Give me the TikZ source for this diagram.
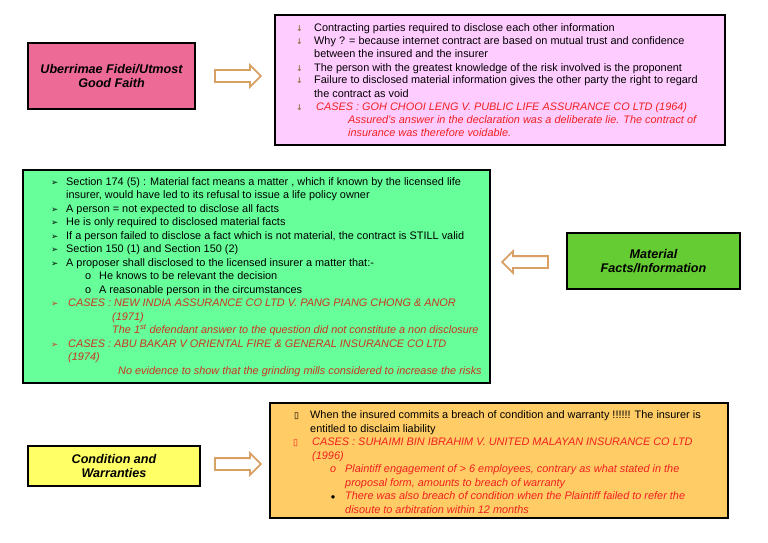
\documentclass[tikz,border=0pt]{standalone}
\usepackage{fontspec}
\setmainfont{Liberation Sans}
\newfontfamily\djv{DejaVu Sans}
\usetikzlibrary{shapes.arrows}
\definecolor{pinkA}{HTML}{EE6A96}
\definecolor{pinkB}{HTML}{FFCCFF}
\definecolor{greenA}{HTML}{66FF99}
\definecolor{greenB}{HTML}{66CC33}
\definecolor{yelA}{HTML}{FFFF66}
\definecolor{orA}{HTML}{FFCC66}
\definecolor{redA}{HTML}{F02020}
\definecolor{redB}{HTML}{CC3322}
\definecolor{arr}{HTML}{D9A066}
\begin{document}
\begin{tikzpicture}[x=1pt,y=-1pt,
  box/.style={draw=black,line width=1.6pt},
  lbl/.style={font=\bfseries\itshape\fontsize{12.6}{14.5}\selectfont,align=center},
  ln/.style={anchor=base west,inner sep=0pt,font=\fontsize{10.9}{12}\selectfont},
  cs/.style={ln,font=\itshape\fontsize{10.9}{12}\selectfont},
  bar/.style={draw=arr,fill=white,line width=1.8pt,single arrow,single arrow head extend=5pt,minimum height=46pt,minimum width=20pt,inner sep=5pt}]
\useasboundingbox (0,0) rectangle (768,543);
% boxes
\draw[box,fill=pinkA] (28,43) rectangle (195,109) node[pos=.5,lbl](b1){Uberrimae Fidei/Utmost\\Good Faith};
\draw[box,fill=pinkB] (275,15) rectangle (725,145) coordinate (b2);
\draw[box,fill=greenA] (23,170) rectangle (490,383) coordinate (b3);
\draw[box,fill=greenB] (567,233) rectangle (740,289) node[pos=.5,lbl](b4){Material\\Facts/Information};
\draw[box,fill=yelA] (28,446) rectangle (200,486) node[pos=.5,lbl](b5){Condition and\\Warranties};
\draw[box,fill=orA] (270,403) rectangle (728,518) coordinate (b6);
% arrows
\node[bar] (a1) at (235,76) {};
\node[bar,shape border rotate=180] (a2) at (528,262) {};
\node[bar] (a3) at (235,464) {};
% pink text
\foreach \y [count=\i] in {32,45,71,84,110}
  \node[ln,text=arr!70!black,font=\djv\bfseries\fontsize{8}{9}\selectfont] (pb\i) at (296,\y) {↓};
\node[ln] (p1) at (314,32) {Contracting parties required to disclose each other information};
\node[ln] (p2) at (314,45) {Why ? = because internet contract are based on mutual trust and confidence};
\node[ln] (p3) at (314,58) {between the insured and the insurer};
\node[ln] (p4) at (314,71) {The person with the greatest knowledge of the risk involved is the proponent};
\node[ln] (p5) at (314,84) {Failure to disclosed material information gives the other party the right to regard};
\node[ln] (p6) at (314,97) {the contract as void};
\node[cs,text=redA] (p7) at (316,110) {CASES : GOH CHOOI LENG V. PUBLIC LIFE ASSURANCE CO LTD (1964)};
\node[cs,text=redA] (p8) at (348,123) {Assured’s answer in the declaration was a deliberate lie. The contract of};
\node[cs,text=redA] (p9) at (348,136) {insurance was therefore voidable.};
% green text
\foreach \y [count=\i] in {185,212,225,239,252,266}
  \node[ln,font=\djv\fontsize{8.5}{9}\selectfont] (gb\i) at (51,\y) {➢};
\foreach \y [count=\i] in {306,347}
  \node[ln,text=redB,font=\djv\fontsize{8.5}{9}\selectfont] (gr\i) at (51,\y) {➢};
\node[ln] (g1) at (66,185) {Section 174 (5) : Material fact means a matter , which if known by the licensed life};
\node[ln] (g2) at (66,198) {insurer, would have led to its refusal to issue a life policy owner};
\node[ln] (g3) at (66,212) {A person = not expected to disclose all facts};
\node[ln] (g4) at (66,225) {He is only required to disclosed material facts};
\node[ln] (g5) at (66,239) {If a person failed to disclose a fact which is not material, the contract is STILL valid};
\node[ln] (g6) at (66,252) {Section 150 (1) and Section 150 (2)};
\node[ln] (g7) at (66,266) {A proposer shall disclosed to the licensed insurer a matter that:-};
\node[ln] (go1) at (85,279) {o};
\node[ln] (go2) at (85,293) {o};
\node[ln] (g8) at (99,279) {He knows to be relevant the decision};
\node[ln] (g9) at (99,293) {A reasonable person in the circumstances};
\node[cs,text=redB] (g10) at (68,306) {CASES : NEW INDIA ASSURANCE CO LTD V. PANG PIANG CHONG \& ANOR};
\node[cs,text=redB] (g11) at (112,320) {(1971)};
\node[cs,text=redB] (g12) at (112,333) {The 1\textsuperscript{st} defendant answer to the question did not constitute a non disclosure};
\node[cs,text=redB] (g13) at (68,347) {CASES : ABU BAKAR V ORIENTAL FIRE \& GENERAL INSURANCE CO LTD};
\node[cs,text=redB] (g14) at (68,360) {(1974)};
\node[cs,text=redB] (g15) at (118,374) {No evidence to show that the grinding mills considered to increase the risks};
% orange text
\node[ln,font=\djv\fontsize{9}{10}\selectfont] (ob1) at (294,418) {▯};
\node[ln,text=redA,font=\djv\itshape\fontsize{9}{10}\selectfont] (ob2) at (293,445) {▯};
\node[ln] (o1) at (310,418) {When the insured commits a breach of condition and warranty !!!!!! The insurer is};
\node[ln] (o2) at (310,432) {entitled to disclaim liability};
\node[cs,text=redA] (o3) at (312,445) {CASES : SUHAIMI BIN IBRAHIM V. UNITED MALAYAN INSURANCE CO LTD};
\node[cs,text=redA] (o4) at (312,459) {(1996)};
\node[cs,text=redA] (oo1) at (330,472) {o};
\node[ln,font=\djv\fontsize{4.5}{5}\selectfont] (oo2) at (331,498) {●};
\node[cs,text=redA] (o5) at (345,472) {Plaintiff engagement of > 6 employees, contrary as what stated in the};
\node[cs,text=redA] (o6) at (345,486) {proposal form, amounts to breach of warranty};
\node[cs,text=redA] (o7) at (345,499) {There was also breach of condition when the Plaintiff failed to refer the};
\node[cs,text=redA] (o8) at (345,513) {disoute to arbitration within 12 months};
\end{tikzpicture}
\end{document}
